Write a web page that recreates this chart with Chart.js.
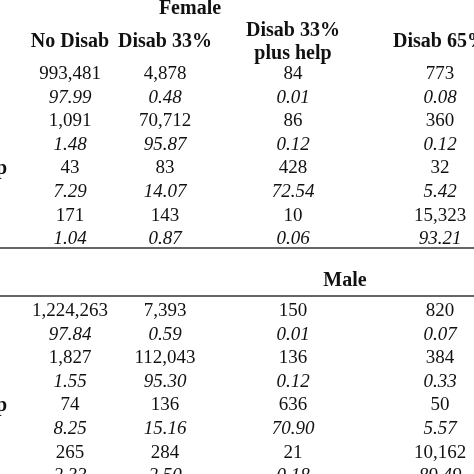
<!DOCTYPE html>
<html><head><meta charset="utf-8">
<script src="https://cdn.jsdelivr.net/npm/chart.js@4"></script>
<style>html,body{margin:0;padding:0;background:#fff}#wrap{width:474px;height:474px}</style>
</head><body><div id="wrap"><canvas id="c" width="474" height="474"></canvas></div>
<script>
const columns = ['No Disab', 'Disab 33%', 'Disab 33%\nplus help', 'Disab 65%'];
const femaleCounts = [
  ['993,481', '4,878', '84', '773'],
  ['1,091', '70,712', '86', '360'],
  ['43', '83', '428', '32'],
  ['171', '143', '10', '15,323']
];
const femalePct = [
  ['97.99', '0.48', '0.01', '0.08'],
  ['1.48', '95.87', '0.12', '0.12'],
  ['7.29', '14.07', '72.54', '5.42'],
  ['1.04', '0.87', '0.06', '93.21']
];
const maleCounts = [
  ['1,224,263', '7,393', '150', '820'],
  ['1,827', '112,043', '136', '384'],
  ['74', '136', '636', '50'],
  ['265', '284', '21', '10,162']
];
const malePct = [
  ['97.84', '0.59', '0.01', '0.07'],
  ['1.55', '95.30', '0.12', '0.33'],
  ['8.25', '15.16', '70.90', '5.57'],
  ['2.33', '2.50', '0.18', '89.49']
];

// layout (pixel-space scale units)
const colX = [70, 165, 293, 440];
const femaleTop = 74, maleTop = 311, rowStep = 23.6;
const serif = '"Liberation Serif", "DejaVu Serif", serif';

const cells = [];
function addBlock(counts, pct, top) {
  counts.forEach((row, r) => {
    row.forEach((v, c) => cells.push({x: colX[c], y: top + r * 2 * rowStep, t: v, it: false}));
    pct[r].forEach((v, c) => cells.push({x: colX[c], y: top + (r * 2 + 1) * rowStep, t: v, it: true}));
  });
}
addBlock(femaleCounts, femalePct, femaleTop);
addBlock(maleCounts, malePct, maleTop);

const tablePlugin = {
  id: 'table',
  afterDatasetsDraw(chart) {
    const {ctx, scales: {x, y}} = chart;
    ctx.save();
    ctx.fillStyle = '#111';
    ctx.textAlign = 'center';
    ctx.textBaseline = 'middle';
    ctx.font = 'bold 20px ' + serif;
    ctx.fillText('Female', x.getPixelForValue(190), y.getPixelForValue(9));
    ctx.fillText('Male', x.getPixelForValue(345), y.getPixelForValue(281));
    columns.forEach((name, c) => {
      const lines = name.split('\n');
      lines.forEach((l, i) => {
        const yy = lines.length === 1 ? 42 : 31 + i * 23;
        ctx.fillText(l, x.getPixelForValue(colX[c]), y.getPixelForValue(yy));
      });
    });
    ctx.textAlign = 'left';
    ctx.fillText('p', x.getPixelForValue(-4), y.getPixelForValue(femaleTop + 4 * rowStep));
    ctx.fillText('p', x.getPixelForValue(-4), y.getPixelForValue(maleTop + 4 * rowStep));
    ctx.textAlign = 'center';
    cells.forEach(d => {
      ctx.font = (d.it ? 'italic ' : '') + '19px ' + serif;
      ctx.fillText(d.t, x.getPixelForValue(d.x), y.getPixelForValue(d.y));
    });
    ctx.strokeStyle = '#333';
    ctx.lineWidth = 1.5;
    [248, 296].forEach(v => {
      ctx.beginPath();
      ctx.moveTo(x.getPixelForValue(0), y.getPixelForValue(v));
      ctx.lineTo(x.getPixelForValue(474), y.getPixelForValue(v));
      ctx.stroke();
    });
    ctx.restore();
  }
};

new Chart(document.getElementById('c'), {
  type: 'scatter',
  data: {datasets: [{data: cells, pointRadius: 0, parsing: {xAxisKey: 'x', yAxisKey: 'y'}}]},
  options: {
    responsive: false, animation: false,
    layout: {padding: 0},
    plugins: {legend: {display: false}, tooltip: {enabled: false}},
    scales: {
      x: {type: 'linear', min: 0, max: 474, display: false},
      y: {type: 'linear', min: 0, max: 474, reverse: true, display: false}
    }
  },
  plugins: [tablePlugin]
});
</script>
</body></html>
